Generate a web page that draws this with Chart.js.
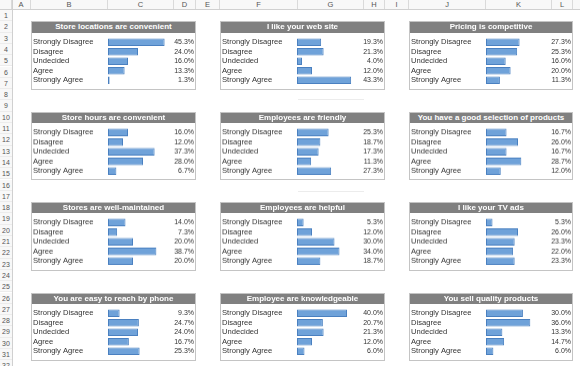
<!DOCTYPE html>
<html>
<head>
<meta charset="utf-8">
<script src="https://cdn.jsdelivr.net/npm/chart.js@4"></script>
<style>
  html, body { margin: 0; padding: 0; background: #fff; }
  body { width: 580px; height: 366px; position: relative; overflow: hidden; font-family: 'Liberation Sans', Arial, sans-serif; }
  .abs { position: absolute; box-sizing: border-box; }
  .colhead { top: 0; height: 10px; font-size: 7.5px; line-height: 10px; color: #555; text-align: center; border-right: 1px solid #dadada; background: #f8f8f8; }
  .rowhead { left: 0; width: 12px; font-size: 7px; color: #555; text-align: center; border-bottom: 1px solid #ececec; background: #f8f8f8; }
  .title { background: #808080; color: #fff; font-weight: bold; font-size: 8px; text-align: center; white-space: nowrap; overflow: hidden; }
  .frame { border: 1px solid #c4c4c4; pointer-events: none; }
  .stray { height: 1px; background: #ececec; }
</style>
</head>
<body>
<script>
'use strict';

// answer categories (same for every question)
let categories = ['Strongly Disagree', 'Disagree', 'Undecided', 'Agree', 'Strongly Agree'];

// percent of answers per question
let storeLocations = [45.3, 24.0, 16.0, 13.3, 1.3];
let webSite = [19.3, 21.3, 4.0, 12.0, 43.3];
let pricing = [27.3, 25.3, 16.0, 20.0, 11.3];
let storeHours = [16.0, 12.0, 37.3, 28.0, 6.7];
let friendly = [25.3, 18.7, 17.3, 11.3, 27.3];
let selection = [16.7, 26.0, 16.7, 28.7, 12.0];
let maintained = [14.0, 7.3, 20.0, 38.7, 20.0];
let helpful = [5.3, 12.0, 30.0, 34.0, 18.7];
let tvAds = [5.3, 26.0, 23.3, 22.0, 23.3];
let phone = [9.3, 24.7, 24.0, 16.7, 25.3];
let knowledgeable = [40.0, 20.7, 21.3, 12.0, 6.0];
let quality = [30.0, 36.0, 13.3, 14.7, 6.0];

let questions = [
  { title: 'Store locations are convenient', values: storeLocations },
  { title: 'I like your web site', values: webSite },
  { title: 'Pricing is competitive', values: pricing },
  { title: 'Store hours are convenient', values: storeHours },
  { title: 'Employees are friendly', values: friendly },
  { title: 'You have a good selection of products', values: selection },
  { title: 'Stores are well-maintained', values: maintained },
  { title: 'Employees are helpful', values: helpful },
  { title: 'I like your TV ads', values: tvAds },
  { title: 'You are easy to reach by phone', values: phone },
  { title: 'Employee are knowledgeable', values: knowledgeable },
  { title: 'You sell quality products', values: quality }
];

// sheet geometry
let headH = 10;
let rowH = 11.3;
let colLetters = ['A', 'B', 'C', 'D', 'E', 'F', 'G', 'H', 'I', 'J', 'K', 'L', 'M'];
let colW = [19, 77, 66, 22, 24, 78, 66, 21, 24, 77, 66, 21, 30];
let colX = [12];
colW.forEach(w => colX.push(colX[colX.length - 1] + w));

function rowTop(n) { return headH + (n - 1) * rowH; }

function addDiv(cls, x, y, w, h, text) {
  let d = document.createElement('div');
  d.className = 'abs ' + cls;
  d.style.left = x + 'px';
  d.style.top = y + 'px';
  d.style.width = w + 'px';
  d.style.height = h + 'px';
  if (text !== undefined) d.textContent = text;
  document.body.appendChild(d);
  return d;
}

// column + row headers
addDiv('colhead', 0, 0, 12, headH, '');
colLetters.forEach((l, i) => addDiv('colhead', colX[i], 0, colW[i], headH, l));
for (let r = 1; r <= 32; r++) {
  let d = addDiv('rowhead', 0, rowTop(r), 12, rowH, String(r));
  d.style.lineHeight = rowH + 'px';
}
addDiv('abs', 12, 0, 1, 366).style.background = '#d0d0d0';
addDiv('abs', 0, headH - 1, 580, 1).style.background = '#d0d0d0';

// stray faint borders seen in the sheet
[8.9, 17, 24].forEach(r => addDiv('stray', colX[6], rowTop(r), colW[6], 1));

// value labels on the right side of each panel
let valueLabels = {
  id: 'valueLabels',
  afterDatasetsDraw(chart) {
    let ctx = chart.ctx;
    let meta = chart.getDatasetMeta(0);
    ctx.save();
    ctx.font = '7px "Liberation Sans", Arial, sans-serif';
    ctx.fillStyle = '#333';
    ctx.textAlign = 'right';
    ctx.textBaseline = 'middle';
    meta.data.forEach((bar, i) => {
      ctx.fillText(chart.data.datasets[0].data[i].toFixed(1) + '%', chart.width - 2, bar.y);
    });
    ctx.restore();
  }
};

questions.forEach((q, i) => {
  let gc = i % 3;
  let gr = Math.floor(i / 3);
  let x = colX[1 + gc * 4];
  let w = colW[1 + gc * 4] + colW[2 + gc * 4] + colW[3 + gc * 4];
  let titleRow = 2 + gr * 8;

  let t = addDiv('title', x, rowTop(titleRow), w, rowH, q.title);
  t.style.lineHeight = rowH + 'px';

  let box = addDiv('', x, rowTop(titleRow + 1), w, rowH * 5);
  let canvas = document.createElement('canvas');
  box.appendChild(canvas);

  addDiv('frame', x, rowTop(titleRow), w, rowH * 6 + 1);

  new Chart(canvas, {
    type: 'bar',
    data: {
      labels: categories,
      datasets: [{
        data: q.values,
        backgroundColor: '#6fa2d9',
        borderColor: '#4a80c0',
        borderWidth: 1,
        borderSkipped: false,
        categoryPercentage: 1,
        barPercentage: 0.78
      }]
    },
    options: {
      indexAxis: 'y',
      responsive: true,
      maintainAspectRatio: false,
      animation: false,
      layout: { padding: { left: 2, right: 22, top: 0, bottom: 0 } },
      plugins: { legend: { display: false }, tooltip: { enabled: false } },
      scales: {
        x: { display: false, min: 0, max: 52.8 },
        y: {
          grid: { display: false },
          border: { display: false },
          ticks: {
            autoSkip: false,
            crossAlign: 'far',
            padding: 0,
            color: '#333',
            font: { size: 7.6, family: '"Liberation Sans", Arial, sans-serif' }
          },
          afterFit(axis) { axis.width = 75; }
        }
      }
    },
    plugins: [valueLabels]
  });
});
</script>
</body>
</html>
